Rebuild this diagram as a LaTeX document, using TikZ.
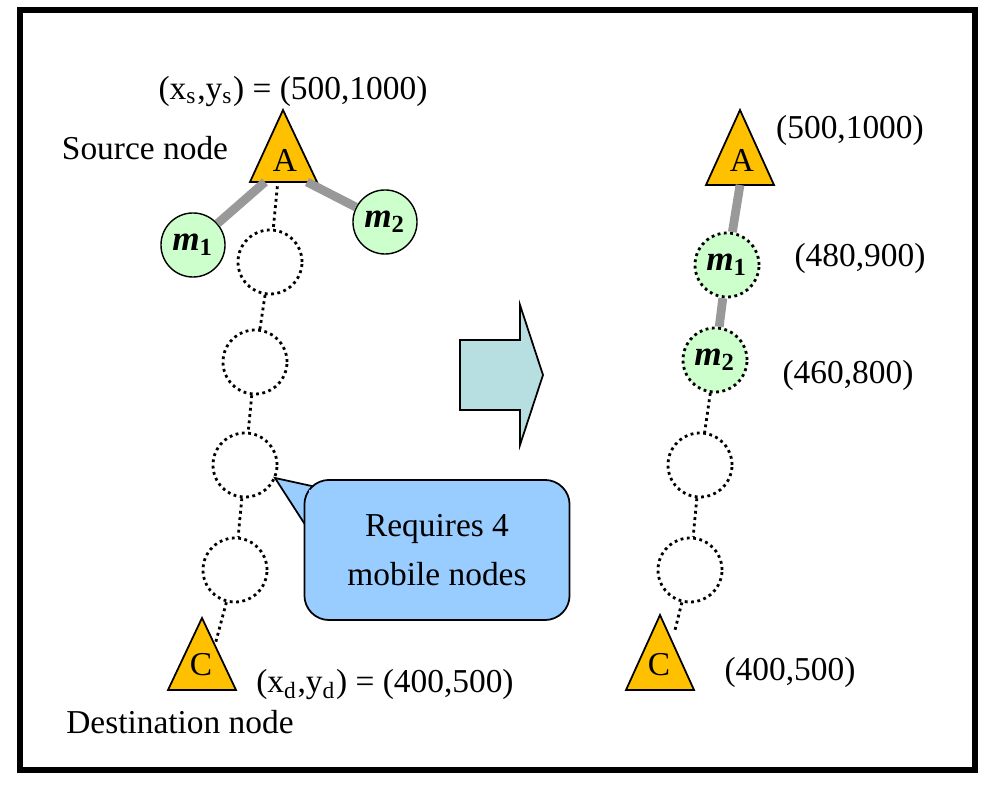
\documentclass[tikz,border=0pt]{standalone}
\usepackage{fontspec}
\setmainfont{Liberation Serif}
\usetikzlibrary{shapes.geometric}
\definecolor{tri}{HTML}{FFC000}
\definecolor{mob}{HTML}{CCFFCC}
\definecolor{arr}{HTML}{B7DEE0}
\definecolor{call}{HTML}{99CCFF}
\newcommand{\mm}[1]{\textbf{\textit{m}}\textsubscript{\textbf{#1}}}
\begin{document}
\begin{tikzpicture}[x=0.01cm,y=-0.01cm,
 lbl/.style={font=\fontsize{9.5}{11}\selectfont,inner sep=0},
 tri/.style={draw,fill=tri,line width=0.5pt},
 mob/.style={draw,fill=mob,circle,minimum size=0.64cm,inner sep=0,font=\fontsize{10}{11}\selectfont},
 ghost/.style={draw,densely dotted,circle,minimum size=0.64cm,inner sep=0,line width=0.8pt},
 link/.style={draw=gray!80,line width=2.5pt},
 dl/.style={densely dotted,line width=0.8pt}]
\useasboundingbox (0,0) rectangle (1000,786);
\draw[line width=1.5pt] (20,10) rectangle (975,770);
% left
\node[ghost] (g1) at (270,262) {};
\node[ghost] (g2) at (255,362) {};
\node[ghost] (g3) at (245,465) {};
\node[ghost] (g4) at (235,570) {};
\draw[dl] (278,180) -- (g1) (g1) -- (g2) (g2) -- (g3) (g3) -- (g4);
\draw[tri] (283,110) -- (317,182) -- (250,182) -- cycle;
\node[lbl] (A) at (285,160) {A};
\draw[dl] (g4) -- (215,645);
\draw[tri] (202,618) -- (236,690) -- (168,690) -- cycle;
\node[lbl] (C) at (201,665) {C};
\node[mob] (m1) at (193,245) {\mm{1}};
\node[mob] (m2) at (385,222) {\mm{2}};
\draw[link] (m1) -- (265,182);
\draw[link] (m2) -- (307,182);
\node[lbl] at (293,92) {(x\textsubscript{s},y\textsubscript{s}) = (500,1000)};
\node[lbl] at (145,148) {Source node};
\node[lbl] at (385,685) {(x\textsubscript{d},y\textsubscript{d}) = (400,500)};
\node[lbl] at (180,722) {Destination node};
% block arrow
\draw[fill=arr,line width=0.5pt] (460,340) -- (520,340) -- (520,305) -- (543,375) -- (520,445) -- (520,410) -- (460,410) -- cycle;
% callout
\draw[fill=call,line width=0.5pt] (330,490) -- (275,478) -- (315,540) -- cycle;
\node[draw,fill=call,rounded corners=7pt,minimum width=2.65cm,minimum height=1.4cm,align=center,lbl,line width=0.5pt] (cb) at (437,550) {Requires 4\\[3pt]mobile nodes};
\fill[call] (331,488) -- (309,490) -- (309,537) -- (316,537) -- cycle;
% right
\draw[tri] (740,110) -- (774,185) -- (706,185) -- cycle;
\node[lbl] (A2) at (742,160) {A};
\node[ghost,fill=mob,font=\fontsize{10}{11}\selectfont] (n1) at (727,265) {\mm{1}};
\node[ghost,fill=mob,font=\fontsize{10}{11}\selectfont] (n2) at (715,360) {\mm{2}};
\draw[link] (740,185) -- (n1);
\draw[link] (n1) -- (n2);
\node[ghost] (h1) at (700,465) {};
\node[ghost] (h2) at (690,570) {};
\draw[dl] (n2) -- (h1) (h1) -- (h2) (h2) -- (675,630);
\draw[tri] (660,615) -- (694,690) -- (626,690) -- cycle;
\node[lbl] (C2) at (659,665) {C};
\node[lbl] at (850,130) {(500,1000)};
\node[lbl] at (860,258) {(480,900)};
\node[lbl] at (848,375) {(460,800)};
\node[lbl] at (790,672) {(400,500)};
\end{tikzpicture}
\end{document}
